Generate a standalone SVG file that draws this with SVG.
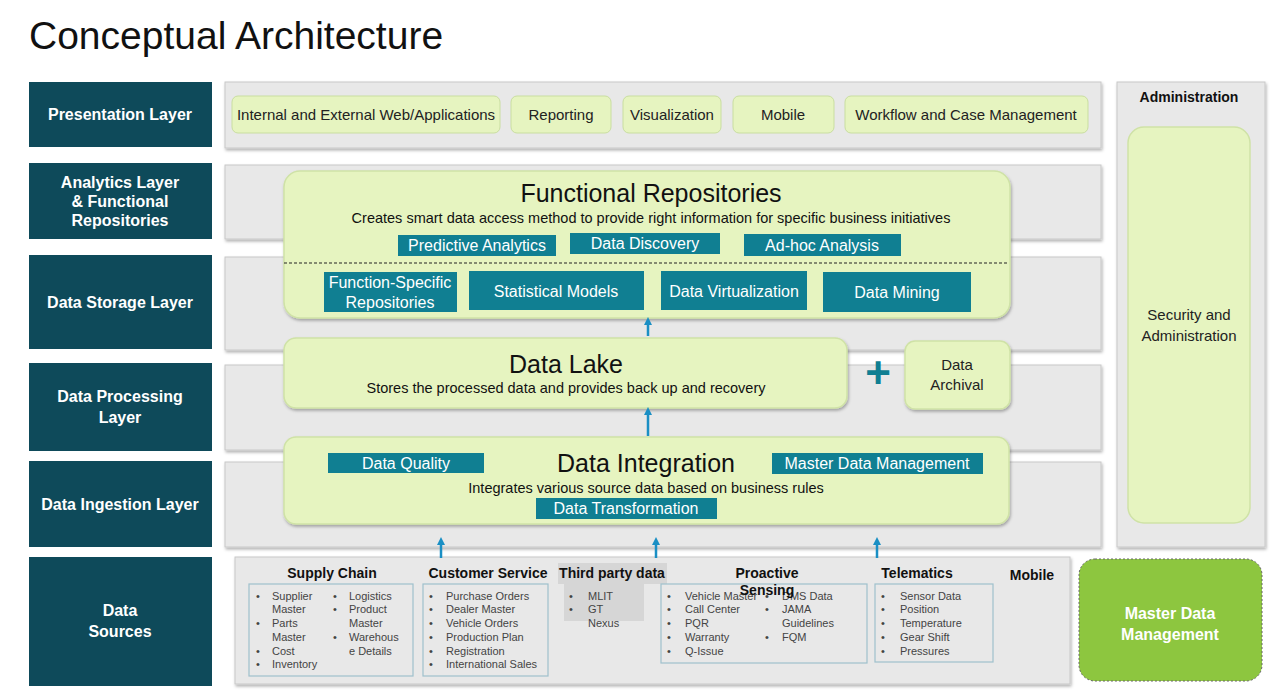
<svg xmlns="http://www.w3.org/2000/svg" width="1280" height="697" viewBox="0 0 1280 697">
<defs>
<style>
text{font-family:"Liberation Sans",Arial,sans-serif}
.lbl{fill:#0e4a5a}
.lt{fill:#fff;font-weight:bold;font-size:16px;text-anchor:middle}
.band{fill:#e8e8e8;stroke:#c8c8c8}
.pbox{fill:#e6f4c0;stroke:#c9dea0}
.pt{font-size:15px;fill:#222;text-anchor:middle}
.big{fill:#e6f4c0;stroke:#cfe2a6;stroke-width:1.5}
.tl{fill:#107f92}
.tt{fill:#fff;font-size:16px;text-anchor:middle}
.h{font-size:25px;fill:#111;text-anchor:middle}
.s{font-size:14.5px;fill:#111;text-anchor:middle}
.sh{font-size:14px;font-weight:bold;fill:#111;text-anchor:middle}
.li{font-size:11px;fill:#444}
.lb{fill:none;stroke:#9ec0cc;stroke-width:1.2}
.arr{stroke:#1a8fc4;stroke-width:2.5;fill:none;marker-end:url(#a)}
</style>
<marker id="a" markerWidth="8" markerHeight="8" refX="4" refY="4" orient="auto" markerUnits="userSpaceOnUse"><path d="M0,0 L8,4 L0,8z" fill="#1a8fc4"/></marker>
<filter id="sh" x="-5%" y="-5%" width="110%" height="120%"><feDropShadow dx="1" dy="2" stdDeviation="1.5" flood-opacity="0.3"/></filter>
</defs>
<rect width="1280" height="697" fill="#fff"/>
<text x="29" y="49" font-size="39" fill="#111">Conceptual Architecture</text>

<g id="left-labels">
<rect class="lbl" x="29" y="82" width="183" height="65"/><text class="lt" x="120" y="120">Presentation Layer</text>
<rect class="lbl" x="29" y="163" width="183" height="76"/><text class="lt" x="120" y="188">Analytics Layer</text><text class="lt" x="120" y="207">&amp; Functional</text><text class="lt" x="120" y="226">Repositories</text>
<rect class="lbl" x="29" y="255" width="183" height="94"/><text class="lt" x="120" y="308">Data Storage Layer</text>
<rect class="lbl" x="29" y="363" width="183" height="88"/><text class="lt" x="120" y="402">Data Processing</text><text class="lt" x="120" y="423">Layer</text>
<rect class="lbl" x="29" y="461" width="183" height="86"/><text class="lt" x="120" y="510">Data Ingestion Layer</text>
<rect class="lbl" x="29" y="557" width="183" height="129"/><text class="lt" x="120" y="616">Data</text><text class="lt" x="120" y="637">Sources</text>
</g>

<g id="bands">
<rect class="band" x="225" y="82" width="876" height="66" filter="url(#sh)"/>
<rect class="band" x="225" y="165" width="876" height="74" filter="url(#sh)"/>
<rect class="band" x="225" y="257" width="876" height="93" filter="url(#sh)"/>
<rect class="band" x="225" y="365" width="876" height="85" filter="url(#sh)"/>
<rect class="band" x="225" y="462" width="876" height="85" filter="url(#sh)"/>
<rect class="band" x="235" y="557" width="835" height="127" filter="url(#sh)"/>
</g>

<g id="presentation">
<rect class="pbox" x="232" y="96" width="268" height="37" rx="6"/><text class="pt" x="366" y="120">Internal and External Web/Applications</text>
<rect class="pbox" x="511" y="96" width="100" height="37" rx="6"/><text class="pt" x="561" y="120">Reporting</text>
<rect class="pbox" x="623" y="96" width="98" height="37" rx="6"/><text class="pt" x="672" y="120">Visualization</text>
<rect class="pbox" x="733" y="96" width="101" height="37" rx="6"/><text class="pt" x="783" y="120">Mobile</text>
<rect class="pbox" x="845" y="96" width="243" height="37" rx="6"/><text class="pt" x="966" y="120">Workflow and Case Management</text>
</g>

<g id="admin">
<rect x="1117" y="82" width="148" height="465" fill="#e8e8e8" stroke="#c8c8c8" filter="url(#sh)"/>
<text x="1189" y="102" font-size="14" font-weight="bold" text-anchor="middle" fill="#111">Administration</text>
<rect x="1128" y="127" width="122" height="396" rx="16" class="big"/>
<text class="pt" x="1189" y="320" font-size="16">Security and</text><text class="pt" x="1189" y="341" font-size="16">Administration</text>
</g>

<g id="functional-repositories">
<rect class="big" x="284" y="171" width="726" height="147" rx="16" filter="url(#sh)"/>
<text class="h" x="651" y="202">Functional Repositories</text>
<text class="s" x="651" y="223">Creates smart data access method to provide right information for specific business initiatives</text>
<rect class="tl" x="398" y="235" width="158" height="21"/><text class="tt" x="477" y="251">Predictive Analytics</text>
<rect class="tl" x="570" y="233" width="150" height="21"/><text class="tt" x="645" y="249">Data Discovery</text>
<rect class="tl" x="744" y="234" width="157" height="22"/><text class="tt" x="822" y="251">Ad-hoc Analysis</text>
<line x1="284" y1="263" x2="1008" y2="263" stroke="#222" stroke-dasharray="3,2"/>
<rect class="tl" x="324" y="272" width="133" height="40"/><text class="tt" x="390" y="288">Function-Specific</text><text class="tt" x="390" y="308">Repositories</text>
<rect class="tl" x="469" y="271" width="175" height="39"/><text class="tt" x="556" y="297">Statistical Models</text>
<rect class="tl" x="661" y="271" width="146" height="39"/><text class="tt" x="734" y="297">Data Virtualization</text>
<rect class="tl" x="823" y="272" width="148" height="40"/><text class="tt" x="897" y="298">Data Mining</text>
</g>

<g id="data-lake">
<rect class="big" x="284" y="338" width="563" height="70" rx="12" filter="url(#sh)"/>
<text class="h" x="566" y="373">Data Lake</text>
<text class="s" x="566" y="393">Stores the processed data and provides back up and recovery</text>
</g>
<text x="878" y="388" font-size="44" font-weight="bold" fill="#107f92" text-anchor="middle">+</text>
<g id="data-archival">
<rect class="big" x="905" y="341" width="105" height="68" rx="10" filter="url(#sh)"/>
<text class="pt" x="957" y="370" font-size="16">Data</text><text class="pt" x="957" y="390" font-size="16">Archival</text>
</g>

<g id="data-integration">
<rect class="big" x="284" y="437" width="725" height="87" rx="12" filter="url(#sh)"/>
<text class="h" x="646" y="472">Data Integration</text>
<rect class="tl" x="328" y="453" width="156" height="20"/><text class="tt" x="406" y="469">Data Quality</text>
<rect class="tl" x="772" y="453" width="211" height="21"/><text class="tt" x="877" y="469">Master Data Management</text>
<text class="s" x="646" y="493">Integrates various source data based on business rules</text>
<rect class="tl" x="536" y="498" width="181" height="21"/><text class="tt" x="626" y="514">Data Transformation</text>
</g>

<g id="connectors">
<line class="arr" x1="648" y1="336" x2="648" y2="321"/>
<line class="arr" x1="648" y1="436" x2="648" y2="411"/>
<line class="arr" x1="441" y1="558" x2="441" y2="541"/>
<line class="arr" x1="656" y1="558" x2="656" y2="541"/>
<line class="arr" x1="877" y1="558" x2="877" y2="541"/>
</g>

<g id="mdm">
<rect x="1079" y="559" width="183" height="122" rx="16" fill="#8dc63f" stroke="#666" stroke-dasharray="2,2"/>
<text x="1170" y="619" font-size="16" font-weight="bold" fill="#fff" text-anchor="middle">Master Data</text>
<text x="1170" y="640" font-size="16" font-weight="bold" fill="#fff" text-anchor="middle">Management</text>
</g>

<g id="supply-chain">
<text class="sh" x="332" y="578">Supply Chain</text>
<rect class="lb" x="249" y="584" width="164" height="92"/>
<g class="li"><text x="256" y="600">•</text><text x="272" y="600">Supplier</text><text x="272" y="613">Master</text><text x="256" y="627">•</text><text x="272" y="627">Parts</text><text x="272" y="641">Master</text><text x="256" y="655">•</text><text x="272" y="655">Cost</text><text x="256" y="668">•</text><text x="272" y="668">Inventory</text>
<text x="333" y="600">•</text><text x="349" y="600">Logistics</text><text x="333" y="613">•</text><text x="349" y="613">Product</text><text x="349" y="627">Master</text><text x="333" y="641">•</text><text x="349" y="641">Warehous</text><text x="349" y="655">e Details</text></g>
</g>

<g id="customer-service">
<text class="sh" x="488" y="578">Customer Service</text>
<rect class="lb" x="423" y="584" width="125" height="92"/>
<g class="li"><text x="429" y="600">•</text><text x="446" y="600">Purchase Orders</text><text x="429" y="613">•</text><text x="446" y="613">Dealer Master</text><text x="429" y="627">•</text><text x="446" y="627">Vehicle Orders</text><text x="429" y="641">•</text><text x="446" y="641">Production Plan</text><text x="429" y="655">•</text><text x="446" y="655">Registration</text><text x="429" y="668">•</text><text x="446" y="668">International Sales</text></g>
</g>

<g id="third-party">
<rect x="558" y="563" width="109" height="21" fill="#d6d6d6"/>
<rect x="564" y="584" width="80" height="37" fill="#d6d6d6"/>
<text class="sh" x="612" y="578">Third party data</text>
<g class="li"><text x="569" y="600">•</text><text x="588" y="600">MLIT</text><text x="569" y="613">•</text><text x="588" y="613">GT</text><text x="588" y="627">Nexus</text></g>
</g>

<g id="proactive-sensing">
<rect class="lb" x="661" y="584" width="206" height="79"/>
<g class="li"><text x="667" y="600">•</text><text x="685" y="600">Vehicle Master</text><text x="667" y="613">•</text><text x="685" y="613">Call Center</text><text x="667" y="627">•</text><text x="685" y="627">PQR</text><text x="667" y="641">•</text><text x="685" y="641">Warranty</text><text x="667" y="655">•</text><text x="685" y="655">Q-Issue</text>
<text x="765" y="600">•</text><text x="782" y="600">DMS Data</text><text x="765" y="613">•</text><text x="782" y="613">JAMA</text><text x="782" y="627">Guidelines</text><text x="765" y="641">•</text><text x="782" y="641">FQM</text></g>
<text class="sh" x="767" y="578">Proactive</text><text class="sh" x="767" y="595">Sensing</text>
</g>

<g id="telematics">
<text class="sh" x="917" y="578">Telematics</text>
<rect class="lb" x="875" y="584" width="118" height="78"/>
<g class="li"><text x="881" y="600">•</text><text x="900" y="600">Sensor Data</text><text x="881" y="613">•</text><text x="900" y="613">Position</text><text x="881" y="627">•</text><text x="900" y="627">Temperature</text><text x="881" y="641">•</text><text x="900" y="641">Gear Shift</text><text x="881" y="655">•</text><text x="900" y="655">Pressures</text></g>
</g>
<g id="mobile"><text class="sh" x="1032" y="580">Mobile</text></g>
</svg>
